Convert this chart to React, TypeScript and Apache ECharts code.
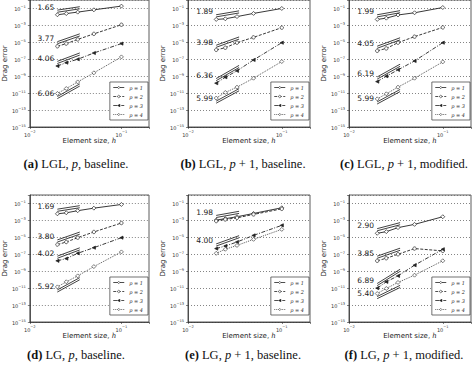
import React, { useEffect, useRef } from 'react';
import * as echarts from 'echarts';

// Element sizes h
const H = [0.02, 0.025, 0.0333, 0.05, 0.1];

// (a) LGL, p, baseline
const aP1 = [1.8e-2, 2.5e-2, 3.7e-2, 6.9e-2, 1.9e-1];
const aP2 = [3.4e-6, 7.1e-6, 2.2e-5, 1.0e-4, 1.2e-3];
const aP3 = [1.6e-8, 4.0e-8, 1.0e-7, 5.5e-7, 7.1e-6];
const aP4 = [9.1e-12, 3.5e-11, 2.1e-10, 2.5e-9, 1.9e-7];
// (b) LGL, p+1, baseline
const bP1 = [5.1e-3, 6.0e-3, 1.1e-2, 2.6e-2, 1.0e-1];
const bP2 = [1.3e-6, 2.3e-6, 9.1e-6, 3.9e-5, 5.4e-4];
const bP3 = [1.5e-10, 7.6e-10, 4.3e-9, 8.3e-8, 9.1e-6];
const bP4 = [2.6e-12, 1.2e-11, 5.1e-11, 5.8e-10, 5.4e-8];
// (c) LGL, p+1, modified
const cP1 = [5.1e-3, 7.2e-3, 1.7e-2, 3.1e-2, 1.3e-1];
const cP2 = [1.0e-6, 1.9e-6, 9.1e-6, 4.7e-5, 5.8e-4];
const cP3 = [2.3e-10, 1.0e-9, 5.6e-9, 6.3e-8, 9.1e-6];
const cP4 = [2.1e-12, 8.3e-12, 5.1e-11, 5.8e-10, 4.9e-8];
// (d) LG, p, baseline
const dP1 = [6.0e-3, 7.9e-3, 1.4e-2, 2.8e-2, 7.6e-2];
const dP2 = [1.4e-6, 2.8e-6, 9.1e-6, 4.3e-5, 4.9e-4];
const dP3 = [1.7e-8, 3.1e-8, 1.3e-7, 6.0e-7, 9.1e-6];
const dP4 = [1.4e-11, 5.6e-11, 2.8e-10, 3.5e-9, 1.9e-7];
// (e) LG, p+1, baseline
const eP1 = [1.1e-3, 1.6e-3, 2.7e-3, 6.6e-3, 3.1e-2];
const eP2 = [8.3e-4, 1.3e-3, 2.0e-3, 5.1e-3, 2.3e-2];
const eP3 = [4.7e-7, 9.5e-7, 2.8e-6, 1.7e-5, 2.6e-4];
const eP4 = [1.3e-7, 3.9e-7, 1.1e-6, 5.8e-6, 8.7e-5];
// (f) LG, p+1, modified
const fP1 = [3.0e-5, 4.7e-5, 1.4e-4, 3.4e-4, 2.7e-3];
const fP2 = [1.7e-8, 3.4e-8, 1.0e-7, 4.7e-7, 2.5e-7];
const fP3 = [1.0e-11, 5.6e-11, 2.8e-10, 5.1e-9, 3.9e-7];
const fP4 = [2.3e-12, 9.1e-12, 4.7e-11, 3.4e-10, 1.7e-8];

// Convergence-rate labels (per p, '' = none)
const aRates = ['1.65', '3.77', '4.06', '6.06'];
const bRates = ['1.89', '3.98', '6.36', '5.99'];
const cRates = ['1.99', '4.05', '6.19', '5.99'];
const dRates = ['1.69', '3.80', '4.02', '5.92'];
const eRates = ['1.98', '', '4.00', ''];
const fRates = ['2.90', '3.85', '6.89', '5.40'];
const rateSide = [1, 1, 1, -1];

const seriesNames = ['p = 1', 'p = 2', 'p = 3', 'p = 4'];
const captions = [
  '{b|(a)} LGL, {i|p}, baseline.',
  '{b|(b)} LGL, {i|p} + 1, baseline.',
  '{b|(c)} LGL, {i|p} + 1, modified.',
  '{b|(d)} LG, {i|p}, baseline.',
  '{b|(e)} LG, {i|p} + 1, baseline.',
  '{b|(f)} LG, {i|p} + 1, modified.',
];

const panels = [
  { data: [aP1, aP2, aP3, aP4], rates: aRates },
  { data: [bP1, bP2, bP3, bP4], rates: bRates },
  { data: [cP1, cP2, cP3, cP4], rates: cRates },
  { data: [dP1, dP2, dP3, dP4], rates: dRates },
  { data: [eP1, eP2, eP3, eP4], rates: eRates },
  { data: [fP1, fP2, fP3, fP4], rates: fRates },
];

// layout
const W = 474, HGT = 366;
const colLeft = [27, 188, 349];
const rowTop = [0, 195];
const GW = 122, GH = 127;
const captionX = [76, 243, 404];
const captionY = [164, 355];

const Y0 = 15;
const toY = (v: number) => Math.log10(v) + Y0;
const INK = '#222';

const supRich = {
  b: { fontSize: 5, fontFamily: 'DejaVu Sans', color: '#333', lineHeight: 7, verticalAlign: 'bottom' },
  s: { fontSize: 3.6, fontFamily: 'DejaVu Sans', color: '#333', lineHeight: 7, verticalAlign: 'top' },
};

const seriesStyles = [
  { symbol: 'diamond', symbolSize: 4, symbolRotate: 0, fill: '#fff', dash: 'solid' as any, color: INK },
  { symbol: 'circle', symbolSize: 3.4, symbolRotate: 0, fill: '#fff', dash: [3, 1.5], color: INK },
  { symbol: 'triangle', symbolSize: 3.2, symbolRotate: 90, fill: INK, dash: [4, 1.5, 1, 1.5], color: INK },
  { symbol: 'diamond', symbolSize: 4, symbolRotate: 0, fill: '#fff', dash: [1, 1], color: '#444' },
];

function buildOption() {
  const grid: any[] = [], xAxis: any[] = [], yAxis: any[] = [], series: any[] = [], legend: any[] = [], graphic: any[] = [];
  panels.forEach((pn, i) => {
    const col = i % 3, row = Math.floor(i / 3);
    const left = colLeft[col], top = rowTop[row];
    grid.push({ left, top, width: GW, height: GH, show: true, borderColor: '#333', borderWidth: 0.8, backgroundColor: 'transparent' });
    xAxis.push({
      type: 'log', logBase: 10, gridIndex: i, min: 0.01, max: 0.2,
      name: 'Element size, {i|h}', nameLocation: 'middle', nameGap: 10,
      nameTextStyle: { fontSize: 7, fontFamily: 'DejaVu Sans', color: INK, rich: { i: { fontSize: 7, fontFamily: 'DejaVu Serif', fontStyle: 'italic', color: INK } } },
      axisLine: { show: true, lineStyle: { color: '#333', width: 0.8 } },
      axisTick: { show: true, length: 2, lineStyle: { color: '#333', width: 0.6 } },
      axisLabel: {
        margin: 3,
        formatter: (v: number) => {
          const e = Math.log10(v);
          if (Math.abs(e - Math.round(e)) > 1e-6) return '';
          return '{b|10}{s|−' + Math.abs(Math.round(e)) + '}';
        },
        rich: supRich,
      },
      splitLine: { show: false },
    });
    yAxis.push({
      type: 'value', gridIndex: i, min: 0, max: 15, interval: 2,
      name: 'Drag error', nameLocation: 'middle', nameGap: 19,
      nameTextStyle: { fontSize: 7, fontFamily: 'DejaVu Sans', color: INK },
      axisLine: { show: true, lineStyle: { color: '#333', width: 0.8 } },
      axisTick: { show: true, length: 2, lineStyle: { color: '#333', width: 0.6 } },
      axisLabel: {
        margin: 4,
        formatter: (v: number) => {
          const e = Math.round(v - Y0);
          if (e >= 0) return '';
          return '{b|10}{s|−' + Math.abs(e) + '}';
        },
        rich: supRich,
      },
      splitLine: { show: true, lineStyle: { type: [1, 2], color: '#666', width: 0.8 } },
    });
    pn.data.forEach((vals, k) => {
      const st = seriesStyles[k];
      series.push({
        type: 'line', name: seriesNames[k], xAxisIndex: i, yAxisIndex: i,
        data: H.map((h, j) => [h, toY(vals[j])]),
        symbol: st.symbol, symbolSize: st.symbolSize, symbolRotate: st.symbolRotate,
        itemStyle: { color: st.fill, borderColor: st.color, borderWidth: 0.7 },
        lineStyle: { color: st.color, width: 0.9, type: st.dash },
        z: 3,
      });
    });
    // convergence-rate indicators
    pn.rates.forEach((r, k) => {
      if (!r) return;
      const s = parseFloat(r);
      const v0 = toY(pn.data[k][0]);
      const offU = rateSide[k] > 0 ? 0.55 : -0.35;
      const offL = offU - 0.25;
      const x0 = 0.02, x1 = 0.035;
      const dx = Math.log10(x1 / x0);
      [offU, offL].forEach((off, m) => {
        series.push({
          type: 'line', name: `rate-${i}-${k}-${m}`, xAxisIndex: i, yAxisIndex: i,
          symbol: 'circle', symbolSize: 0.3, silent: true,
          itemStyle: { color: '#111' },
          lineStyle: { color: '#111', width: 0.8 },
          data: [
            m === 0
              ? { value: [x0, v0 + off], label: { show: true, formatter: r, position: 'left', distance: 3, offset: [0, -3], fontSize: 7.5, fontFamily: 'DejaVu Sans', color: INK } }
              : { value: [x0, v0 + off] },
            { value: [x1, v0 + off + s * dx] },
          ],
          z: 4,
        });
      });
    });
    legend.push({
      orient: 'vertical',
      right: W - (left + GW) + 1,
      bottom: HGT - (top + GH) + 7,
      data: seriesNames,
      itemWidth: 11, itemHeight: 3, itemGap: 4,
      padding: [3, 5, 3, 3],
      borderColor: '#333', borderWidth: 0.7, borderRadius: 0,
      backgroundColor: '#fff',
      selectedMode: false,
      itemStyle: { borderWidth: 0.6 },
      lineStyle: { width: 0.8 },
      textStyle: { fontSize: 5, fontFamily: 'DejaVu Serif', fontStyle: 'italic', color: INK },
    });
    graphic.push({
      type: 'text', x: captionX[col], y: captionY[row],
      style: {
        text: captions[i], fill: '#111', fontSize: 12.5, fontFamily: 'Liberation Serif',
        align: 'center', verticalAlign: 'middle',
        rich: {
          b: { fontSize: 12.5, fontFamily: 'Liberation Serif', fontWeight: 'bold', fill: '#111' },
          i: { fontSize: 12.5, fontFamily: 'Liberation Serif', fontStyle: 'italic', fill: '#111' },
        },
      },
    });
  });
  return { animation: false, backgroundColor: '#fff', grid, xAxis, yAxis, series, legend, graphic };
}

export default function App() {
  const ref = useRef<HTMLDivElement>(null);
  useEffect(() => {
    if (!ref.current) return;
    const chart = echarts.init(ref.current, undefined, { renderer: 'svg' });
    chart.setOption(buildOption() as any);
    return () => chart.dispose();
  }, []);
  return <div ref={ref} style={{ position: 'fixed', left: 0, top: 0, width: W, height: HGT }} />;
}
